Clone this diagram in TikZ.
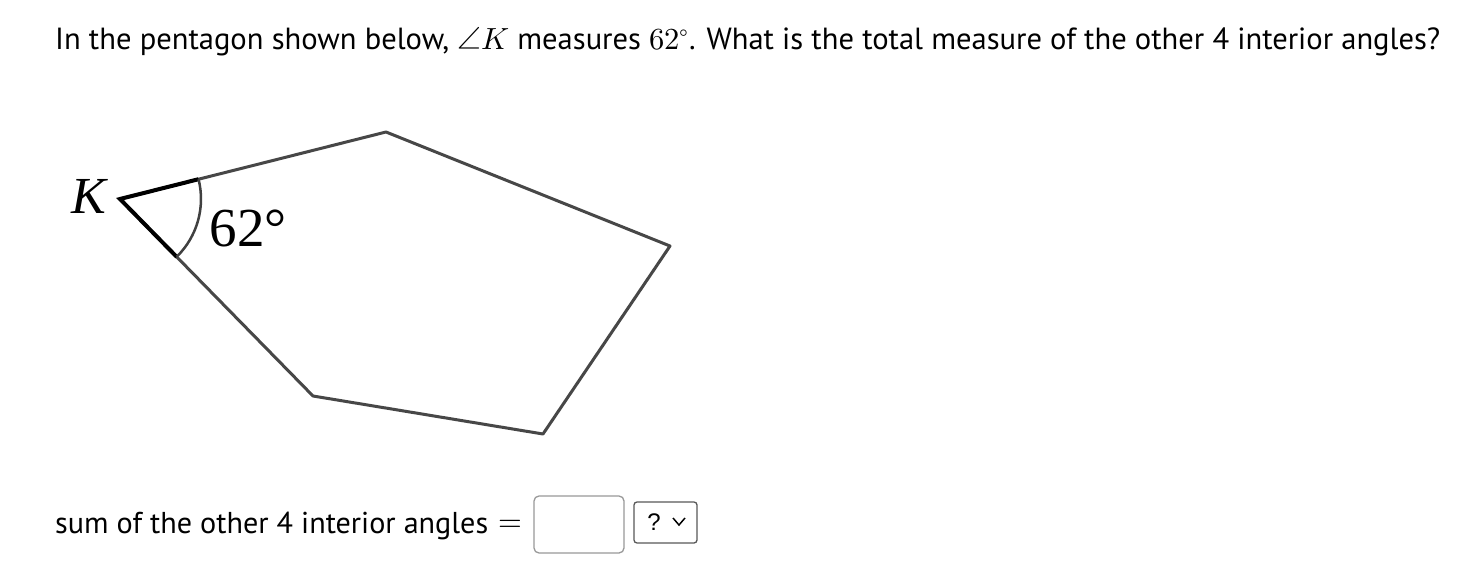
\documentclass[tikz,border=0pt]{standalone}
\usepackage{fontspec}
\usepackage{unicode-math}
\usetikzlibrary{calc}
\setmainfont{PT Sans}
\setmathfont{Latin Modern Math}
\newfontfamily\serifK{Liberation Serif}
\newfontfamily\arialf{Liberation Sans}
\begin{document}
\begin{tikzpicture}[x=1pt,y=-1pt,
  edge/.style={draw=black!72,line width=3pt,line join=round},
  boxin/.style={draw=black!40,line width=1.3pt,rounded corners=5pt},
  boxsel/.style={draw=black!65,line width=1.3pt,rounded corners=3pt},
  qtext/.style={anchor=base west,inner sep=0pt,font=\fontsize{30.5}{36}\selectfont},
  lbl/.style={anchor=center,inner sep=0pt,font=\serifK\fontsize{55}{55}\selectfont}]
\useasboundingbox (0,0) rectangle (1473,572);
\fill[white] (0,0) rectangle (1473,572);
\node[qtext] (title) at (55,50) {\resizebox{1385pt}{!}{In the pentagon shown below, $\angle K$ measures $62^\circ$. What is the total measure of the other 4 interior angles?}};
\coordinate (K) at (120,199);
\coordinate (A) at (386,132);
\coordinate (B) at (670,246);
\coordinate (C) at (543,434);
\coordinate (D) at (313,396);
\draw[edge] (K) -- (A) -- (B) -- (C) -- (D) -- cycle;
\draw[black,line width=4pt,line join=miter] ($(K)!81pt!(A)$) -- (K) -- ($(K)!81pt!(D)$);
\draw[black!75,line width=2.5pt] ($(K)!81pt!(A)$) arc[start angle=14.1,end angle=-45.6,radius=81pt];
\node[lbl] (ang) at (248,228) {62°};
\node[lbl,font=\serifK\itshape\fontsize{52}{52}\selectfont] (klab) at (89,196) {K};
\node[qtext] (sum) at (55,533) {\resizebox{433pt}{!}{sum of the other 4 interior angles}};
\node[anchor=center,inner sep=0pt,font=\fontsize{30.5}{36}\selectfont] (eq) at (510,526) {$=$};
\draw[boxin] (534,496) rectangle (624,553);
\draw[boxsel] (634,502) rectangle (697,543);
\node[anchor=center,font=\arialf\fontsize{24}{24}\selectfont] (q) at (654,522) {?};
\draw[black,line width=1.5pt] (673,518) -- (679,525) -- (685,518);
\end{tikzpicture}
\end{document}
